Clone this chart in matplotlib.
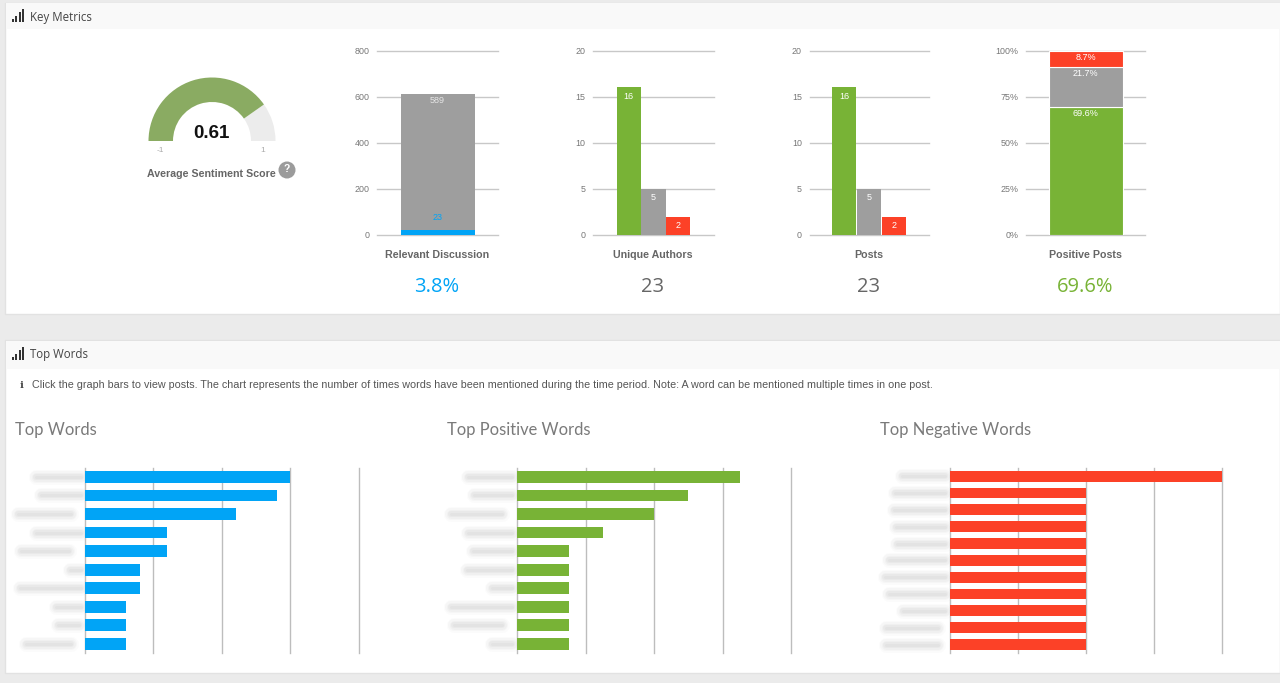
#!/usr/bin/env python3
"""Recreate the Key Metrics / Top Words dashboard screenshot."""
import matplotlib
matplotlib.use("Agg")
import matplotlib.pyplot as plt
from matplotlib.patches import Circle, Rectangle, Wedge

GAUGE_VALUE = 0.61
GAUGE_MIN = -1
GAUGE_MAX = 1

DISCUSSION_LABELS = ["Relevant", "Other"]
DISCUSSION_VALUES = [23, 589]
DISCUSSION_TICKS = [0, 200, 400, 600, 800]

SENTIMENTS = ["Positive", "Neutral", "Negative"]
AUTHOR_VALUES = [16, 5, 2]
POST_VALUES = [16, 5, 2]
COUNT_TICKS = [0, 5, 10, 15, 20]

SHARE_VALUES = [69.6, 21.7, 8.7]
SHARE_TICKS = [0, 25, 50, 75, 100]
SHARE_TICK_LABELS = ["0%", "25%", "50%", "75%", "100%"]

TOP_WORDS = [15, 14, 11, 6, 6, 4, 4, 3, 3, 3]
TOP_TICKS = [0, 5, 10, 15, 20]
TOP_POSITIVE = [13, 10, 8, 5, 3, 3, 3, 3, 3, 3]
POSITIVE_TICKS = [0, 4, 8, 12, 16]
TOP_NEGATIVE = [2, 1, 1, 1, 1, 1, 1, 1, 1, 1, 1]
NEGATIVE_TICKS = [0, 0.5, 1, 1.5, 2]

GREEN = "#78b336"
GREY = "#9e9e9e"
RED = "#fc4127"
BLUE = "#01a4f6"
GRID = "#c8c8c8"
SANS = "Liberation Sans"
SOFT = "Open Sans"
W, H = 1280, 683

plt.rcParams["font.family"] = [SANS, "DejaVu Sans"]


def px_axes(fig, left, top, right, bottom, **kw):
    return fig.add_axes([left / W, 1 - bottom / H, (right - left) / W, (bottom - top) / H], **kw)


def draw_panel(bg, top, header_bottom, bottom, title):
    bg.add_patch(Rectangle((5, top), W - 5, bottom - top, fc="white", ec="#e2e2e2", lw=1))
    bg.add_patch(Rectangle((5.5, top + 0.5), W - 5, header_bottom - top, fc="#f9f9f9", ec="none"))
    for i, height in enumerate([3, 6, 10, 13]):
        base = top + 19.5
        bg.add_patch(Rectangle((12 + i * 3.3, base - height), 2.1, height, fc="#333333", ec="none"))
    bg.text(30, top + 14.5, title, family=SOFT, fontsize=8.3, color="#444444", va="center")


def style_vertical(ax, ticks, labels=None):
    ax.set_ylim(ticks[0], ticks[-1])
    ax.set_yticks(ticks)
    ax.set_yticklabels(labels if labels else [str(t) for t in ticks], fontsize=6.4, color="#777777")
    ax.set_xticks([])
    ax.tick_params(length=0, pad=5.5)
    for spine in ax.spines.values():
        spine.set_visible(False)
    ax.set_axisbelow(True)
    ax.grid(axis="y", color=GRID, linewidth=1.0)
    for line in ax.get_ygridlines():
        line.set_clip_on(False)


def grouped_chart(fig, left, right, values, ticks):
    ax = px_axes(fig, left, 50.5, right, 235)
    ax.patch.set_alpha(0)
    positions = range(len(values))
    bars = ax.bar(positions, values, width=0.97, color=[GREEN, GREY, RED], clip_on=False)
    half = (right - left) / 24.9 / 2
    ax.set_xlim(1 - half, 1 + half)
    style_vertical(ax, ticks)
    for bar, value in zip(bars, values):
        ax.annotate(str(value), (bar.get_x() + bar.get_width() / 2, value), xytext=(0, -6.5),
                    textcoords="offset points", ha="center", va="center", fontsize=6.5, color="white")
    return ax


def word_chart(fig, left, right, values, ticks, color, title, title_x, smudges):
    ax = px_axes(fig, left, 467.7, right, 653)
    ax.patch.set_alpha(0)
    ax.barh(range(len(values)), values, height=0.64, color=color)
    ax.set_ylim(len(values) - 0.5, -0.5)
    ax.set_xlim(ticks[0], ticks[-1])
    ax.set_xticks(ticks)
    ax.set_xticklabels([])
    ax.set_yticks([])
    ax.tick_params(length=0)
    for spine in ax.spines.values():
        spine.set_visible(False)
    ax.set_axisbelow(True)
    ax.grid(axis="x", color="#bdbdbd", linewidth=1.0)
    for line in ax.get_xgridlines():
        line.set_clip_on(False)
    fig.text(title_x / W, 1 - 429.5 / H, title, family="Lato", fontsize=11.9, color="#7a7a7a", va="center")
    # the word labels are blurred out in the reference, so only soft smudges are drawn
    band = (653 - 467.7) / len(values)
    bg = fig.axes[0]
    for i, (x0, x1) in enumerate(smudges):
        y = 467.7 + band * (i + 0.5)
        for width, alpha in [(15, 0.025), (12, 0.035), (9, 0.045), (6, 0.05), (3, 0.05)]:
            bg.plot([x0, x1], [y, y], color="#777777", lw=width * 0.72, alpha=alpha,
                    solid_capstyle="round")


def main():
    fig = plt.figure(figsize=(W / 100, H / 100), dpi=100, facecolor="#ebebeb")
    bg = fig.add_axes([0, 0, 1, 1])
    bg.set_xlim(0, W)
    bg.set_ylim(H, 0)
    bg.axis("off")
    draw_panel(bg, 2.5, 28, 313.5, "Key Metrics")
    draw_panel(bg, 340, 368, 673, "Top Words")

    # gauge
    gauge = px_axes(fig, 140, 70, 284, 150)
    gauge.set_xlim(-72, 72)
    gauge.set_ylim(-9, 71)
    gauge.axis("off")
    stop = 180 * (GAUGE_MAX - GAUGE_VALUE) / (GAUGE_MAX - GAUGE_MIN)
    gauge.add_patch(Wedge((0, 0), 63.5, 0, stop, width=24.5, fc="#ececec", ec="none"))
    gauge.add_patch(Wedge((0, 0), 63.5, stop, 180, width=24.5, fc="#8aab62", ec="none"))
    bg.text(211.5, 133.5, f"{GAUGE_VALUE:.2f}", fontsize=13.5, fontweight="bold", color="#111111",
            ha="center", va="center")
    bg.text(160, 150, str(GAUGE_MIN), fontsize=6, color="#aaaaaa", ha="center", va="center")
    bg.text(263, 150, str(GAUGE_MAX), fontsize=6, color="#aaaaaa", ha="center", va="center")
    bg.text(211, 174, "Average Sentiment Score", fontsize=7.7, fontweight="bold", color="#666666",
            ha="center", va="center")
    bg.add_patch(Circle((287, 170), 8.5, fc="#9b9b9b", ec="none"))
    bg.text(287, 169.5, "?", fontsize=7.5, fontweight="bold", color="white", ha="center", va="center")

    # relevant discussion
    ax = px_axes(fig, 377, 50.5, 498, 235)
    ax.patch.set_alpha(0)
    half = 121 / 74 / 2
    ax.bar(0, DISCUSSION_VALUES[0], width=1, color=BLUE, clip_on=False)
    ax.bar(0, DISCUSSION_VALUES[1], width=1, bottom=DISCUSSION_VALUES[0], color=GREY)
    ax.set_xlim(-half, half)
    style_vertical(ax, DISCUSSION_TICKS)
    ax.annotate(str(DISCUSSION_VALUES[1]), (0, sum(DISCUSSION_VALUES)), xytext=(0, -4.5),
                textcoords="offset points", ha="center", va="center", fontsize=6.5, color="#e6e6e6")
    ax.annotate(str(DISCUSSION_VALUES[0]), (0, DISCUSSION_VALUES[0]), xytext=(0, 9),
                textcoords="offset points", ha="center", va="center", fontsize=6.5, color=BLUE)

    grouped_chart(fig, 593, 714, AUTHOR_VALUES, COUNT_TICKS)
    grouped_chart(fig, 809.6, 929, POST_VALUES, COUNT_TICKS)

    # positive share
    ax = px_axes(fig, 1026, 50.5, 1145.4, 235)
    ax.patch.set_alpha(0)
    half = 119.4 / 74 / 2
    bottom = 0
    for value, color in zip(SHARE_VALUES, [GREEN, GREY, RED]):
        ax.bar(0, value, width=1, bottom=bottom, color=color, edgecolor="white", linewidth=0.8)
        ax.annotate(f"{value}%", (0, bottom + value), xytext=(0, -5), textcoords="offset points",
                    ha="center", va="center", fontsize=6.5, color="white")
        bottom += value
    ax.set_xlim(-half, half)
    style_vertical(ax, SHARE_TICKS, SHARE_TICK_LABELS)

    metric_names = ["Relevant Discussion", "Unique Authors", "Posts", "Positive Posts"]
    totals = [
        f"{DISCUSSION_VALUES[0] / sum(DISCUSSION_VALUES) * 100:.1f}%",
        str(sum(AUTHOR_VALUES)), str(sum(POST_VALUES)), f"{SHARE_VALUES[0]}%",
    ]
    for x, name, total, color in zip([437, 653, 869, 1085], metric_names, totals,
                                     [BLUE, "#666666", "#666666", GREEN]):
        bg.text(x, 254.5, name, fontsize=7.7, fontweight="bold", color="#666666", ha="center", va="center")
        bg.text(x, 286.5, total, family=SOFT, fontsize=14.5, color=color, ha="center", va="center")

    bg.text(22, 385, "i", family="DejaVu Serif", fontsize=7.5, fontweight="bold", color="#444444",
            ha="center", va="center")
    bg.text(32, 385, "Click the graph bars to view posts. The chart represents the number of times words "
            "have been mentioned during the time period. Note: A word can be mentioned multiple times in one post.",
            fontsize=7.73, color="#555555", va="center")

    word_chart(fig, 85, 358.7, TOP_WORDS, TOP_TICKS, BLUE, "Top Words", 15,
               [(36, 81), (41, 81), (18, 71), (36, 81), (21, 69), (70, 81), (20, 81), (56, 81), (58, 79), (26, 71)])
    word_chart(fig, 517.3, 791, TOP_POSITIVE, POSITIVE_TICKS, GREEN, "Top Positive Words", 447,
               [(468, 512), (474, 512), (451, 502), (468, 512), (473, 512), (467, 512), (492, 512), (451, 512), (454, 502), (492, 512)])
    word_chart(fig, 949.7, 1222.3, TOP_NEGATIVE, NEGATIVE_TICKS, RED, "Top Negative Words", 880,
               [(902, 945), (895, 945), (894, 945), (896, 945), (897, 945), (889, 945), (885, 945), (889, 945), (903, 945), (886, 938), (886, 938)])

    fig.savefig("out.png", dpi=100, facecolor=fig.get_facecolor())
    plt.close(fig)


if __name__ == "__main__":
    main()
